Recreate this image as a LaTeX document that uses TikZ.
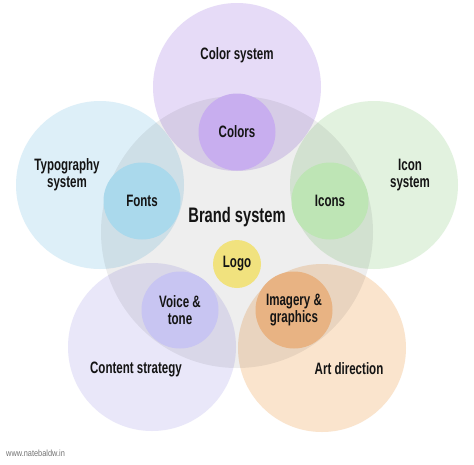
\documentclass[tikz,border=0pt]{standalone}
\usepackage{fontspec}
\setmainfont{Liberation Sans}[FakeStretch=0.7]
\newfontfamily\wmfont{Liberation Sans}[FakeStretch=0.82]
\definecolor{cTop}{HTML}{E6DBF7}
\definecolor{cTopIn}{HTML}{C8AEEF}
\definecolor{cLeft}{HTML}{DDEFF8}
\definecolor{cLeftIn}{HTML}{AAD9EC}
\definecolor{cRight}{HTML}{E2F2DF}
\definecolor{cRightIn}{HTML}{BEE5B5}
\definecolor{cBL}{HTML}{E9E7F9}
\definecolor{cBLIn}{HTML}{C8C5F2}
\definecolor{cBR}{HTML}{FAE4CD}
\definecolor{cBRIn}{HTML}{E8B383}
\definecolor{cLogo}{HTML}{F1E27E}
\definecolor{txt}{HTML}{141414}
\tikzset{
  outer/.style={circle, draw=none, minimum size=168pt, inner sep=0pt},
  inner/.style={circle, draw=none, minimum size=77pt, inner sep=0pt},
  lbl/.style={font=\bfseries\fontsize{16.5}{17}\selectfont, text=txt, align=center},
  biglbl/.style={font=\bfseries\fontsize{21}{23}\selectfont, text=txt, align=center},
}
\begin{document}
\begin{tikzpicture}[x=1pt,y=-1pt]
\useasboundingbox (0,0) rectangle (474,464);
\fill[white] (0,0) rectangle (474,464);
% outer circles
\node[outer, fill=cTop] (ctop) at (237,87) {};
\node[outer, fill=cLeft] (cleft) at (100,185) {};
\node[outer, fill=cRight] (cright) at (374,185) {};
\node[outer, fill=cBL] (cbl) at (152,347) {};
\node[outer, fill=cBR] (cbr) at (322,348) {};
% central brand circle
\node[circle, minimum size=272pt, inner sep=0pt, fill=black, fill opacity=0.065] (brand) at (237,232) {};
% inner circles
\node[inner, fill=cTopIn] (colors) at (237,132) {};
\node[inner, fill=cLeftIn] (fonts) at (142,201) {};
\node[inner, fill=cRightIn] (icons) at (330,201) {};
\node[inner, fill=cBLIn] (voice) at (180,310) {};
\node[inner, fill=cBRIn] (imagery) at (294,310) {};
\node[circle, minimum size=48pt, inner sep=0pt, fill=cLogo] (logo) at (237,264) {};
% labels
\node[lbl] (tcolsys) at (237,55) {Color system};
\node[lbl] (ttypo) at (67,175) {Typography\\system};
\node[lbl] (ticonsys) at (410,175) {Icon\\system};
\node[lbl] (tcontent) at (136,369) {Content strategy};
\node[lbl] (tart) at (349,369) {Art direction};
\node[lbl] (tcolors) at (colors) {Colors};
\node[lbl] (tfonts) at (fonts) {Fonts};
\node[lbl] (ticons) at (icons) {Icons};
\node[lbl] (tvoice) at (voice) {Voice \&\\tone};
\node[lbl] (timg) at (imagery) {Imagery \&\\graphics};
\node[lbl] (tlogo) at (logo) {Logo};
\node[biglbl] (tbrand) at (237,217) {Brand system};
\node[font=\wmfont\fontsize{9}{10}\selectfont, text=black!55, anchor=west, inner sep=0pt] (wm) at (6,453) {www.natebaldw.in};
\end{tikzpicture}
\end{document}
